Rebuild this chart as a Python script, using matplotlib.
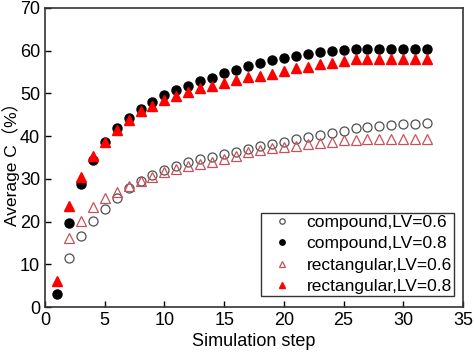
import matplotlib
matplotlib.use('Agg')
import matplotlib.pyplot as plt

plt.rcParams['font.family'] = ['Liberation Sans', 'Noto Sans CJK SC', 'DejaVu Sans']

steps = list(range(1, 33))

comp_06 = [None, 11.5, 16.6, 20.2, 23.0, 25.5, 27.8, 29.5, 31.0, 32.1, 33.1, 33.9, 34.6,
           35.2, 35.8, 36.4, 37.0, 37.7, 38.2, 38.7, 39.3, 39.9, 40.3, 40.8, 41.3,
           41.8, 42.2, 42.4, 42.6, 42.8, 42.9, 43.0]
comp_08 = [3.0, 19.7, 28.7, 34.4, 38.7, 41.8, 44.3, 46.4, 47.9, 49.6, 50.8, 51.8, 52.9,
           53.7, 54.7, 55.5, 56.4, 57.2, 57.8, 58.3, 58.8, 59.2, 59.6, 60.0, 60.2,
           60.4, 60.4, 60.4, 60.4, 60.4, 60.4, 60.4]
rect_06 = [None, 16.2, 20.1, 23.3, 25.5, 27.0, 28.4, 29.5, 30.5, 31.5, 32.3, 33.0, 33.5,
           34.0, 34.6, 35.4, 36.4, 36.8, 37.2, 37.5, 37.8, 38.2, 38.5, 38.7, 39.1,
           39.2, 39.3, 39.3, 39.3, 39.3, 39.3, 39.3]
rect_08 = [6.1, 23.6, 30.5, 35.4, 38.6, 41.5, 43.7, 45.8, 47.1, 48.5, 49.4, 50.4, 51.2,
           51.8, 52.4, 53.2, 53.8, 54.1, 54.6, 55.3, 55.9, 56.3, 56.8, 57.2, 57.5,
           58.0, 58.0, 58.0, 58.0, 58.0, 58.0, 58.0]

def pts(vals):
    xs = [s for s, v in zip(steps, vals) if v is not None]
    ys = [v for v in vals if v is not None]
    return xs, ys

fig = plt.figure(figsize=(4.74, 3.55), dpi=100)
ax = fig.add_axes([45/474, 48/355, 418/474, 299/355])

x, y = pts(comp_06)
ax.plot(x, y, 'o', ms=6.5, mfc='none', mec='#505050', mew=0.9, label='compound,LV=0.6')
x, y = pts(comp_08)
ax.plot(x, y, 'o', ms=6.5, mfc='black', mec='black', label='compound,LV=0.8')
x, y = pts(rect_06)
ax.plot(x, y, '^', ms=7, mfc='none', mec='#c8505a', mew=0.9, label='rectangular,LV=0.6')
x, y = pts(rect_08)
ax.plot(x, y, '^', ms=7, mfc='red', mec='red', label='rectangular,LV=0.8')

ax.set_xlim(0, 35)
ax.set_ylim(0, 70)
ax.set_xticks(range(0, 36, 5))
ax.set_yticks(range(0, 71, 10))
ax.tick_params(direction='in', labelsize=13, length=4, width=1)
for s in ax.spines.values():
    s.set_linewidth(1.2)
    s.set_color('#333333')

ax.set_xlabel('Simulation step', fontsize=13, labelpad=3)
ax.set_ylabel('Average C（%）', fontsize=12.5)
ax.yaxis.set_label_coords(-25/418, 0.49)

leg = ax.legend(loc='lower right', fontsize=12.5, markerscale=0.6, frameon=True,
                fancybox=False, edgecolor='black', handletextpad=0.3,
                borderpad=0.12, labelspacing=0.35, handlelength=2.2,
                borderaxespad=0, bbox_to_anchor=(0.978, 0.037))
leg.get_frame().set_linewidth(1.0)

plt.savefig('out.png', dpi=100)
